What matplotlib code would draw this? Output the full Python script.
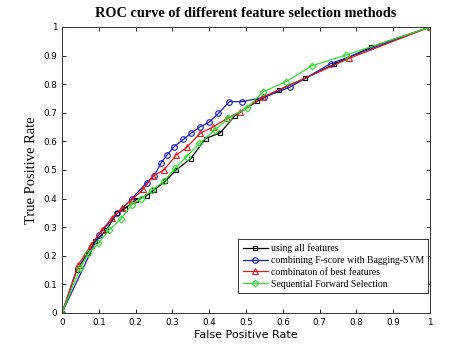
import matplotlib
matplotlib.use("Agg")
import matplotlib.pyplot as plt

# ROC points
fpr_all = [0, 0.04, 0.07, 0.09, 0.12, 0.15, 0.17, 0.20, 0.23, 0.25, 0.28, 0.31, 0.35,
           0.39, 0.43, 0.47, 0.53, 0.59, 0.66, 0.74, 0.84, 1]
tpr_all = [0, 0.15, 0.21, 0.25, 0.29, 0.35, 0.365, 0.395, 0.41, 0.43, 0.46, 0.50, 0.54,
           0.61, 0.63, 0.69, 0.74, 0.78, 0.82, 0.87, 0.93, 1]

fpr_fsc = [0, 0.10, 0.15, 0.19, 0.23, 0.25, 0.27, 0.285, 0.305, 0.33, 0.35, 0.375,
           0.40, 0.425, 0.455, 0.49, 0.55, 0.62, 0.73, 1]
tpr_fsc = [0, 0.273, 0.349, 0.40, 0.456, 0.48, 0.526, 0.552, 0.582, 0.607, 0.628, 0.651,
           0.667, 0.698, 0.739, 0.739, 0.755, 0.79, 0.872, 1]

fpr_best = [0, 0.044, 0.079, 0.108, 0.135, 0.162, 0.189, 0.221, 0.248, 0.277, 0.31,
            0.339, 0.375, 0.411, 0.449, 0.484, 0.547, 0.78, 1]
tpr_best = [0, 0.168, 0.238, 0.29, 0.331, 0.366, 0.395, 0.433, 0.48, 0.50, 0.552,
            0.579, 0.628, 0.651, 0.681, 0.704, 0.756, 0.89, 1]

fpr_sfs = [0, 0.049, 0.072, 0.099, 0.128, 0.159, 0.189, 0.216, 0.245, 0.277, 0.307,
           0.339, 0.373, 0.416, 0.452, 0.502, 0.547, 0.609, 0.678, 0.772, 1]
tpr_sfs = [0, 0.156, 0.209, 0.244, 0.29, 0.327, 0.378, 0.40, 0.43, 0.461, 0.506,
           0.547, 0.593, 0.64, 0.681, 0.716, 0.774, 0.809, 0.864, 0.902, 1]

labels = ["using all features", "combining F-score with Bagging-SVM",
          "combinaton of best features", "Sequential Forward Selection"]

fig = plt.figure(figsize=(4.74, 3.52), dpi=100)
ax = fig.add_axes([0.1308, 0.1108, 0.7764, 0.8125])

ms = 3.5
ax.plot(fpr_all, tpr_all, "-s", color="black", lw=0.9, ms=ms, mfc="none", mew=0.8, label=labels[0])
ax.plot(fpr_fsc, tpr_fsc, "-o", color="#1a1ab4", lw=0.9, ms=ms + 0.5, mfc="none", mew=0.8, label=labels[1])
ax.plot(fpr_best, tpr_best, "-^", color="#e02020", lw=0.9, ms=ms + 0.5, mfc="none", mew=0.8, label=labels[2])
ax.plot(fpr_sfs, tpr_sfs, "-D", color="#33dd33", lw=0.9, ms=ms, mfc="none", mew=0.8, label=labels[3])

ax.set_xlim(0, 1)
ax.set_ylim(0, 1)
ticks = [i / 10 for i in range(11)]
ticklabels = ["0"] + ["%.1f" % t for t in ticks[1:-1]] + ["1"]
ax.set_xticks(ticks)
ax.set_xticklabels(ticklabels)
ax.set_yticks(ticks)
ax.set_yticklabels(ticklabels)
ax.tick_params(direction="in", top=True, right=True, labelsize=6.3, length=3, width=0.6)
for s in ax.spines.values():
    s.set_linewidth(0.7)
    s.set_color("#333333")

ax.set_title("ROC curve of different feature selection methods",
             fontfamily="Liberation Serif", fontweight="bold", fontsize=10.3, pad=7)
ax.set_xlabel("False Positive Rate", fontsize=8, labelpad=2)
ax.set_ylabel("True Positive Rate", fontfamily="Liberation Serif", fontsize=10.5, labelpad=4)

leg = ax.legend(loc="lower right", bbox_to_anchor=(0.995, 0.07), fancybox=False,
                prop={"family": "Liberation Serif", "size": 7}, handlelength=2.6,
                borderpad=0.45, labelspacing=0.28, handletextpad=0.25, borderaxespad=0)
leg.get_frame().set_edgecolor("black")
leg.get_frame().set_linewidth(0.7)

fig.savefig("out.png", dpi=100)
